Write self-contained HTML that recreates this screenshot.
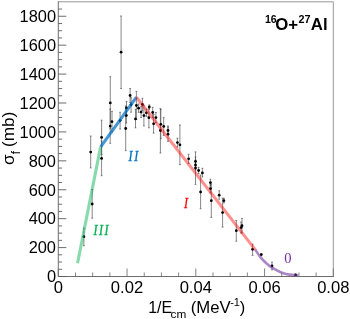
<!DOCTYPE html>
<html><head><meta charset="utf-8"><title>16O+27Al</title>
<style>
html,body{margin:0;padding:0;background:#fff;}
body{width:350px;height:319px;overflow:hidden;}
svg{display:block;}
text{font-family:"Liberation Sans",Arial,Helvetica,sans-serif;fill:#000;}
.t{font-size:16.4px;}
.ser{font-family:"Liberation Serif","Times New Roman",serif;font-style:italic;font-size:15px;}
</style></head><body>
<svg width="350" height="319" viewBox="0 0 350 319">
<rect x="0" y="0" width="350" height="319" fill="#fff"/>

<g stroke="#505050" stroke-width="0.68" fill="none">
<path d="M83.9 228.1V245.7M83.0 228.1h1.8M83.0 245.7h1.8"/>
<path d="M92.2 189.5V218.2M91.3 189.5h1.8M91.3 218.2h1.8"/>
<path d="M90.7 136.0V167.9M89.8 136.0h1.8M89.8 167.9h1.8"/>
<path d="M101.6 120.2V154.6M100.7 120.2h1.8M100.7 154.6h1.8"/>
<path d="M101.6 141.0V175.7M100.7 141.0h1.8M100.7 175.7h1.8"/>
<path d="M110.3 76.7V128.9M109.4 76.7h1.8M109.4 128.9h1.8"/>
<path d="M112.0 111.4V132.0M111.1 111.4h1.8M111.1 132.0h1.8"/>
<path d="M110.2 108.9V143.3M109.3 108.9h1.8M109.3 143.3h1.8"/>
<path d="M120.1 112.3V129.0M119.2 112.3h1.8M119.2 129.0h1.8"/>
<path d="M121.1 16.0V88.5M120.2 16.0h1.8M120.2 88.5h1.8"/>
<path d="M130.1 88.5V102.5M129.2 88.5h1.8M129.2 102.5h1.8"/>
<path d="M136.4 91.4V119.5M135.5 91.4h1.8M135.5 119.5h1.8"/>
<path d="M131.1 97.6V112.2M130.2 97.6h1.8M130.2 112.2h1.8"/>
<path d="M126.5 101.5V114.5M125.6 101.5h1.8M125.6 114.5h1.8"/>
<path d="M126.3 108.0V123.0M125.4 108.0h1.8M125.4 123.0h1.8"/>
<path d="M125.7 106.0V150.7M124.8 106.0h1.8M124.8 150.7h1.8"/>
<path d="M135.5 109.4V127.8M134.6 109.4h1.8M134.6 127.8h1.8"/>
<path d="M138.6 104.0V112.3M137.7 104.0h1.8M137.7 112.3h1.8"/>
<path d="M141.1 106.7V117.5M140.2 106.7h1.8M140.2 117.5h1.8"/>
<path d="M143.9 105.3V125.9M143.0 105.3h1.8M143.0 125.9h1.8"/>
<path d="M148.9 107.7V127.8M148.0 107.7h1.8M148.0 127.8h1.8"/>
<path d="M146.4 109.0V116.5M145.5 109.0h1.8M145.5 116.5h1.8"/>
<path d="M149.3 104.9V109.2M148.4 104.9h1.8M148.4 109.2h1.8"/>
<path d="M142.4 98.3V110.5M141.5 98.3h1.8M141.5 110.5h1.8"/>
<path d="M152.7 107.3V117.7M151.8 107.3h1.8M151.8 117.7h1.8"/>
<path d="M155.9 112.5V122.6M155.0 112.5h1.8M155.0 122.6h1.8"/>
<path d="M153.6 114.5V133.1M152.7 114.5h1.8M152.7 133.1h1.8"/>
<path d="M160.8 109.6V138.8M159.9 109.6h1.8M159.9 138.8h1.8"/>
<path d="M160.4 108.5V153.0M159.5 108.5h1.8M159.5 153.0h1.8"/>
<path d="M163.7 117.6V135.4M162.8 117.6h1.8M162.8 135.4h1.8"/>
<path d="M168.0 126.0V135.0M167.1 126.0h1.8M167.1 135.0h1.8"/>
<path d="M168.0 127.0V141.4M167.1 127.0h1.8M167.1 141.4h1.8"/>
<path d="M177.4 138.2V147.0M176.5 138.2h1.8M176.5 147.0h1.8"/>
<path d="M179.9 125.0V164.6M179.0 125.0h1.8M179.0 164.6h1.8"/>
<path d="M188.6 154.3V163.5M187.7 154.3h1.8M187.7 163.5h1.8"/>
<path d="M195.5 157.0V165.8M194.6 157.0h1.8M194.6 165.8h1.8"/>
<path d="M195.5 160.0V170.0M194.6 160.0h1.8M194.6 170.0h1.8"/>
<path d="M195.5 151.9V184.4M194.6 151.9h1.8M194.6 184.4h1.8"/>
<path d="M198.6 167.4V173.7M197.7 167.4h1.8M197.7 173.7h1.8"/>
<path d="M202.4 168.3V177.0M201.5 168.3h1.8M201.5 177.0h1.8"/>
<path d="M200.6 175.0V208.7M199.7 175.0h1.8M199.7 208.7h1.8"/>
<path d="M210.4 179.2V186.0M209.5 179.2h1.8M209.5 186.0h1.8"/>
<path d="M210.4 184.0V193.0M209.5 184.0h1.8M209.5 193.0h1.8"/>
<path d="M211.3 184.0V217.4M210.4 184.0h1.8M210.4 217.4h1.8"/>
<path d="M219.2 190.8V199.2M218.3 190.8h1.8M218.3 199.2h1.8"/>
<path d="M223.9 198.3V203.0M223.0 198.3h1.8M223.0 203.0h1.8"/>
<path d="M222.6 198.1V227.1M221.7 198.1h1.8M221.7 227.1h1.8"/>
<path d="M236.3 220.5V241.2M235.4 220.5h1.8M235.4 241.2h1.8"/>
<path d="M242.0 218.5V233.0M241.1 218.5h1.8M241.1 233.0h1.8"/>
<path d="M241.1 222.0V233.0M240.2 222.0h1.8M240.2 233.0h1.8"/>
<path d="M252.6 244.2V255.4M251.7 244.2h1.8M251.7 255.4h1.8"/>
<path d="M261.3 253.6V255.6M260.4 253.6h1.8M260.4 255.6h1.8"/>
<path d="M272.0 262.0V269.9M271.1 262.0h1.8M271.1 269.9h1.8"/>
<path d="M295.6 274.0V275.8M294.7 274.0h1.8M294.7 275.8h1.8"/>
</g>
<g fill="#000">
<circle cx="83.9" cy="236.7" r="1.4"/>
<circle cx="92.2" cy="204.0" r="1.4"/>
<circle cx="90.7" cy="152.1" r="1.4"/>
<circle cx="101.6" cy="137.4" r="1.4"/>
<circle cx="101.6" cy="158.4" r="1.4"/>
<circle cx="110.3" cy="102.9" r="1.4"/>
<circle cx="112.0" cy="121.7" r="1.4"/>
<circle cx="110.2" cy="126.1" r="1.4"/>
<circle cx="120.1" cy="120.6" r="1.4"/>
<circle cx="121.1" cy="52.2" r="1.4"/>
<circle cx="130.1" cy="95.5" r="1.4"/>
<circle cx="136.4" cy="105.5" r="1.4"/>
<circle cx="131.1" cy="104.6" r="1.4"/>
<circle cx="126.5" cy="108.0" r="1.4"/>
<circle cx="126.3" cy="115.6" r="1.4"/>
<circle cx="125.7" cy="128.5" r="1.4"/>
<circle cx="135.5" cy="118.9" r="1.4"/>
<circle cx="138.6" cy="108.2" r="1.4"/>
<circle cx="141.1" cy="112.1" r="1.4"/>
<circle cx="143.9" cy="115.6" r="1.4"/>
<circle cx="148.9" cy="117.7" r="1.4"/>
<circle cx="146.4" cy="112.8" r="1.4"/>
<circle cx="149.3" cy="107.0" r="1.4"/>
<circle cx="142.4" cy="104.4" r="1.4"/>
<circle cx="152.7" cy="112.5" r="1.4"/>
<circle cx="155.9" cy="117.6" r="1.4"/>
<circle cx="153.6" cy="123.8" r="1.4"/>
<circle cx="160.8" cy="124.3" r="1.4"/>
<circle cx="160.4" cy="130.5" r="1.4"/>
<circle cx="163.7" cy="126.4" r="1.4"/>
<circle cx="168.0" cy="130.5" r="1.4"/>
<circle cx="168.0" cy="134.2" r="1.4"/>
<circle cx="177.4" cy="142.6" r="1.4"/>
<circle cx="179.9" cy="144.8" r="1.4"/>
<circle cx="188.6" cy="158.8" r="1.4"/>
<circle cx="195.5" cy="161.4" r="1.4"/>
<circle cx="195.5" cy="164.9" r="1.4"/>
<circle cx="195.5" cy="168.0" r="1.4"/>
<circle cx="198.6" cy="170.5" r="1.4"/>
<circle cx="202.4" cy="172.9" r="1.4"/>
<circle cx="200.6" cy="192.0" r="1.4"/>
<circle cx="210.4" cy="182.6" r="1.4"/>
<circle cx="210.4" cy="188.6" r="1.4"/>
<circle cx="211.3" cy="200.7" r="1.4"/>
<circle cx="219.2" cy="195.2" r="1.4"/>
<circle cx="223.9" cy="200.7" r="1.4"/>
<circle cx="222.6" cy="212.6" r="1.4"/>
<circle cx="236.3" cy="230.7" r="1.4"/>
<circle cx="242.0" cy="225.7" r="1.4"/>
<circle cx="241.1" cy="227.6" r="1.4"/>
<circle cx="252.6" cy="249.3" r="1.4"/>
<circle cx="261.3" cy="254.6" r="1.4"/>
<circle cx="272.0" cy="265.9" r="1.4"/>
<circle cx="295.6" cy="274.9" r="1.4"/>
</g>
<g fill="none" stroke-width="3.1" stroke-linecap="butt">
<path d="M77.55 263.3L100.6 146.9" stroke="#00B050" stroke-opacity="0.47"/>
<path d="M100.7 146.9L136.4 97.2" stroke="#0070C0" stroke-opacity="0.72"/>
<path d="M136.4 97.2L255.2 249.6" stroke="#FF0000" stroke-opacity="0.43"/>
<path d="M255.20 249.60C256.10 250.90 258.75 255.12 260.60 257.40C262.45 259.68 264.40 261.58 266.30 263.30C268.20 265.02 269.48 266.17 272.00 267.70C274.52 269.23 278.52 271.35 281.40 272.50C284.28 273.65 286.50 274.12 289.30 274.60C292.10 275.08 296.72 275.27 298.20 275.40" stroke="#7030A0" stroke-opacity="0.58" stroke-width="2.6"/>
</g>
<g stroke="#5c5c5c" stroke-width="0.9" fill="none">
<path d="M58.3 1.8H333.3V276.5" stroke="#8c8c8c"/>
<path d="M58.3 1.3V276.5H333.8" stroke="#5c5c5c"/>
<path d="M58.3 276.50h8M58.3 269.27h3.8M58.3 262.04h3.8M58.3 254.81h3.8M58.3 247.58h8M58.3 240.36h3.8M58.3 233.13h3.8M58.3 225.90h3.8M58.3 218.67h8M58.3 211.44h3.8M58.3 204.21h3.8M58.3 196.98h3.8M58.3 189.75h8M58.3 182.52h3.8M58.3 175.29h3.8M58.3 168.07h3.8M58.3 160.84h8M58.3 153.61h3.8M58.3 146.38h3.8M58.3 139.15h3.8M58.3 131.92h8M58.3 124.69h3.8M58.3 117.46h3.8M58.3 110.23h3.8M58.3 103.01h8M58.3 95.78h3.8M58.3 88.55h3.8M58.3 81.32h3.8M58.3 74.09h8M58.3 66.86h3.8M58.3 59.63h3.8M58.3 52.40h3.8M58.3 45.17h8M58.3 37.94h3.8M58.3 30.72h3.8M58.3 23.49h3.8M58.3 16.26h8M58.3 9.03h3.8"/>
<path d="M58.30 276.5v-8M75.49 276.5v-4M92.67 276.5v-4M109.86 276.5v-4M127.05 276.5v-8M144.24 276.5v-4M161.43 276.5v-4M178.61 276.5v-4M195.80 276.5v-8M212.99 276.5v-4M230.18 276.5v-4M247.36 276.5v-4M264.55 276.5v-8M281.74 276.5v-4M298.93 276.5v-4M316.11 276.5v-4M333.30 276.5v-8" stroke="#6e6e6e" stroke-width="0.85"/>
</g>
<text class="t" x="56" y="282.1" text-anchor="end">0</text>
<text class="t" x="56" y="253.3" text-anchor="end">200</text>
<text class="t" x="56" y="224.4" text-anchor="end">400</text>
<text class="t" x="56" y="195.5" text-anchor="end">600</text>
<text class="t" x="56" y="166.5" text-anchor="end">800</text>
<text class="t" x="56" y="137.6" text-anchor="end">1000</text>
<text class="t" x="56" y="108.7" text-anchor="end">1200</text>
<text class="t" x="56" y="79.8" text-anchor="end">1400</text>
<text class="t" x="56" y="50.9" text-anchor="end">1600</text>
<text class="t" x="56" y="22.0" text-anchor="end">1800</text>
<text class="t" x="58.3" y="292.8" text-anchor="middle" style="font-size:16.6px">0</text>
<text class="t" x="127.0" y="292.8" text-anchor="middle" style="font-size:16.6px">0.02</text>
<text class="t" x="195.8" y="292.8" text-anchor="middle" style="font-size:16.6px">0.04</text>
<text class="t" x="264.6" y="292.8" text-anchor="middle" style="font-size:16.6px">0.06</text>
<text class="t" x="333.3" y="292.8" text-anchor="middle" style="font-size:16.6px">0.08</text>
<text class="t" y="312.6" style="font-size:16px"><tspan x="148.2">1/E</tspan><tspan x="170.6" font-size="11.8px" dy="5.6">cm </tspan><tspan x="190.8" dy="-5.6" style="font-size:16.7px">(MeV</tspan><tspan x="230.2" font-size="11px" dy="-6.5">-1</tspan><tspan x="239.7" dy="6.5" style="font-size:16.5px">)</tspan></text>
<text class="t" transform="translate(14.3,164.9) rotate(-90)" style="font-size:17.2px">σ<tspan font-size="12px" dy="5.6">f</tspan><tspan dy="-5.6" dx="-0.8"> (mb)</tspan></text>
<text y="30.3" font-size="16.8px" font-weight="bold"><tspan x="264.9" font-size="10.6px" dy="-7.5">16</tspan><tspan x="275.3" dy="7.5">O</tspan><tspan x="288.3">+</tspan><tspan x="298.6" font-size="10.8px" dy="-7.5">27</tspan><tspan x="310.8" dy="7.5">Al</tspan></text>
<text class="ser" transform="translate(128.6,160.6) scale(0.8,1)" style="fill:#0070C0;stroke:#0070C0;stroke-width:0.35px" letter-spacing="2.0">II</text>
<text class="ser" transform="translate(183.9,207.7) scale(0.8,1)" style="fill:#FF0000;stroke:#FF0000;stroke-width:0.3px">I</text>
<text class="ser" transform="translate(93.4,234.5) scale(0.8,1)" style="fill:#00B050;stroke:#00B050;stroke-width:0.35px" letter-spacing="2.0">III</text>
<text class="ser" x="284.2" y="263.3" style="fill:#7030a0;font-size:14.5px;font-style:normal">0</text>
</svg></body></html>
